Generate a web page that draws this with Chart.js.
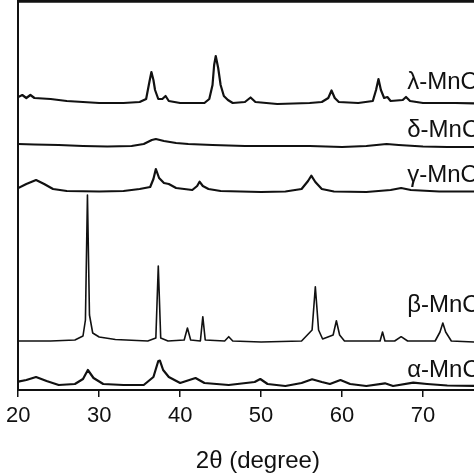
<!DOCTYPE html>
<html><head><meta charset="utf-8">
<script src="https://cdn.jsdelivr.net/npm/chart.js@4.4.1/dist/chart.umd.min.js"></script>
<style>html,body{margin:0;padding:0;background:#fff}#wrap{width:474px;height:474px}</style>
</head><body><div id="wrap"><canvas id="c" width="474" height="474"></canvas></div>
<script>
// Tick labels of the 2θ axis
const xTicks = [20, 30, 40, 50, 60, 70];
const xMin = 20, xMax = 76.3;
const yMin = 0, yMax = 389;
const xTitle = '2θ (degree)';
const xTitleCenter = 49.6; // title centred under the full (uncropped) axis

// Series names (labels drawn at the right of each trace)
const seriesNames = ['λ-MnO2', 'δ-MnO2', 'γ-MnO2', 'β-MnO2', 'α-MnO2'];
const labelX = 68.05;
const labelY = [301, 253, 208, 78, 13];

// λ-MnO2 (offset intensity, a.u.)
const lambdaX = [20,20.5,21,21.5,22,24,26,28,30,33,35,35.8,36.2,36.45,36.7,36.9,37.3,37.8,38.2,38.6,40,43,43.6,44.0,44.2,44.4,44.7,45.0,45.4,45.9,46.5,48,48.7,49.3,52,56,57.5,58.3,58.7,59.1,59.6,62,63.8,64.2,64.5,64.8,65.2,65.6,66,67.5,67.9,68.4,70,74,76.5];
const lambdaY = [293,295,292,295,292,291,289,288,287,287,288,291,308,318,310,300,291,291,294,289,287,287,291,305,325,334,322,305,294,290,287,288,292.5,288,286,287,288,292,299.5,292,288,287,289,300,311,300,292,293,289,290,293,289,287,287,286.5];

// δ-MnO2
const deltaX = [20,22,25,28,31,34,35.5,36.5,37.0,38,39.5,41,44,48,52,56,60,63,65.5,67,70,73,76.5];
const deltaY = [246,245.5,245,244,243.5,244,246,250,251,249,247,246,245,244,244,244,243,244,246,245,243.5,243,243];

// γ-MnO2
const gammaX = [20,21,22.2,23.2,24.3,26,30,33,35,36.3,36.7,37.0,37.4,38,38.6,39.5,41.5,42.1,42.4,42.8,43.5,45,50,53,55,55.8,56.2,56.7,57.5,59,63,66,67.3,68.5,72,76.5];
const gammaY = [202,206,210,206,201,199,198.5,199,201,203,211,221,212,207,206,202,200,204,208.3,204,201,199,198,198.5,201,209,214.3,208,201,198.5,198,200,202,200,198.5,198.5];

// β-MnO2
const betaX = [20,24,27,28.0,28.3,28.55,28.8,29.2,30,32,36,37.0,37.3,37.6,38.5,40.5,40.9,41.3,42.5,42.8,43.1,45.5,46.0,46.5,50,55,56.3,56.7,57.1,57.6,58.9,59.3,59.7,60.3,64.7,65.0,65.3,66.5,67.3,68.1,71.5,72.1,72.45,72.8,73.5,76.5];
const betaY = [49,49,50,54,70,195,75,57,53,50.5,49,52,124,52,49,50,62,50,49,73.3,50,49,53.3,49,48,49,60,103.3,60,51,55,69.3,55,49,49,58,49,49,53.3,49,49,58,67,58,49,48];

// α-MnO2
const alphaX = [20,21,22.2,23.5,25,27,28,28.6,29.3,30.5,33,35.5,36.7,37.3,37.5,37.9,38.6,40,41.9,43,46,49.2,49.9,50.8,53,55,56.3,57.5,58.5,59.8,61,63,65.3,66.3,68.8,70.5,73,76.5];
const alphaY = [8.3,10,13,9,5,6,11,20,12,6,5,5,13,29,29.3,20,13,7,12,7,5,8,11,6,4,7,10.7,8,6,10,6,4,6.7,4,7.3,6,4.5,4];

const allX = [lambdaX, deltaX, gammaX, betaX, alphaX];
const allY = [lambdaY, deltaY, gammaY, betaY, alphaY];
const widths = [2.2, 2.2, 2.2, 1.6, 2.2];

const datasets = allX.map((xs, i) => ({
  label: seriesNames[i],
  data: xs.map((x, k) => ({x: x, y: allY[i][k]})),
  borderColor: '#111',
  borderWidth: widths[i],
  borderJoinStyle: 'round',
  pointRadius: 0,
  tension: 0,
  fill: false
}));

const FONT = '"Liberation Sans", Arial, sans-serif';

const decor = {
  id: 'decor',
  afterDraw(chart) {
    const ctx = chart.ctx, a = chart.chartArea;
    const xs = chart.scales.x, ys = chart.scales.y;
    ctx.save();
    ctx.strokeStyle = '#111';
    ctx.lineWidth = 3;
    ctx.beginPath();
    ctx.moveTo(a.left - 1, 1.2);
    ctx.lineTo(a.right, 1.2);
    ctx.stroke();
    ctx.fillStyle = '#111';
    ctx.font = '24px ' + FONT;
    ctx.textAlign = 'left';
    ctx.textBaseline = 'alphabetic';
    seriesNames.forEach((n, i) => {
      ctx.fillText(n, xs.getPixelForValue(labelX), ys.getPixelForValue(labelY[i]));
    });
    ctx.textAlign = 'center';
    ctx.textBaseline = 'middle';
    ctx.fillText(xTitle, xs.getPixelForValue(xTitleCenter), a.bottom + 71);
    ctx.restore();
  }
};

new Chart(document.getElementById('c'), {
  type: 'line',
  data: { datasets },
  options: {
    responsive: false,
    animation: false,
    devicePixelRatio: 1,
    layout: { padding: { top: 1, right: 0, left: 0, bottom: 0 } },
    plugins: { legend: { display: false }, tooltip: { enabled: false } },
    scales: {
      x: {
        type: 'linear', min: xMin, max: xMax,
        afterBuildTicks: (s) => { s.ticks = xTicks.map(v => ({value: v})); },
        afterFit: (s) => { s.height = 84; },
        grid: { display: true, drawOnChartArea: false, drawTicks: true, tickLength: 7, color: '#111', lineWidth: 1.5 },
        border: { display: true, color: '#111', width: 2 },
        ticks: { color: '#111', font: { size: 22, family: FONT }, padding: 6, maxRotation: 0, autoSkip: false },
        title: { display: false }
      },
      y: {
        type: 'linear', min: yMin, max: yMax,
        afterFit: (s) => { s.width = 17; },
        grid: { display: false },
        border: { display: true, color: '#111', width: 2 },
        ticks: { display: false }
      }
    }
  },
  plugins: [decor]
});
</script></body></html>
